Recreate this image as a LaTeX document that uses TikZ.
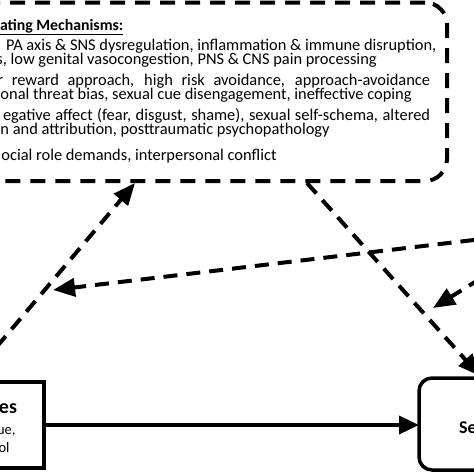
\documentclass[tikz,border=0pt]{standalone}
\usepackage{fontspec}
\setmainfont{Carlito}
\usetikzlibrary{arrows.meta}
\tikzset{
  txt/.style={inner sep=0pt, outer sep=0pt, anchor=base west, font=\fontsize{16.4}{18}\selectfont},
  lbl/.style={inner sep=0pt, outer sep=0pt, anchor=base east},
  boxshape/.style={draw, line width=3.5pt, inner sep=0pt, outer sep=0pt},
  medbox/.style={draw, line width=4pt, dash pattern=on 15pt off 10pt, rounded corners=22pt, inner sep=0pt, outer sep=0pt},
  dasharrow/.style={line width=4pt, dash pattern=on 14pt off 9pt, -{Triangle[length=22pt,width=18pt]}},
  solidarrow/.style={line width=3.5pt, -{Triangle[length=20pt,width=18pt]}},
}
\begin{document}
\begin{tikzpicture}[x=1pt,y=-1pt]
\useasboundingbox (0,0) rectangle (474,474);
\clip (0,0) rectangle (474,474);
% mediator box
\node[medbox, minimum width=527pt, minimum height=178.5pt, anchor=north west] (M) at (-80,2.5) {};
\node[txt, font=\fontsize{15.8}{18}\selectfont] (h) at (0,30) {\textbf{\underline{ating Mechanisms:}}};
\node[txt] (t1) at (6,50.5) {PA axis \& SNS dysregulation, inflammation \& immune disruption,};
\node[txt] (t2) at (-3.5,64.5) {s, low genital vasocongestion, PNS \& CNS pain processing};
\node[txt] (t3) at (-2.5,85.5) {\makebox[432.5pt][s]{r reward approach, high risk avoidance, approach-avoidance}};
\node[txt] (t4) at (0.5,99.5) {onal threat bias, sexual cue disengagement, ineffective coping};
\node[txt] (t5) at (3,120.5) {\makebox[427pt][s]{egative affect (fear, disgust, shame), sexual self-schema, altered}};
\node[txt] (t6) at (0.5,134.5) {n and attribution, posttraumatic psychopathology};
\node[txt] (t7) at (1.5,160.5) {ocial role demands, interpersonal conflict};
% left box
\node[boxshape, minimum width=194pt, minimum height=86pt, anchor=north east] (L) at (44,382) {};
\node[lbl, font=\fontsize{20}{24}\selectfont\bfseries] (l1) at (17,413) {es};
\node[lbl, font=\fontsize{14.5}{17}\selectfont] (l2) at (15.5,434) {ue,};
\node[lbl, font=\fontsize{14.5}{17}\selectfont] (l3) at (9.5,452) {ol};
% right box
\node[boxshape, rounded corners=13pt, minimum width=200pt, minimum height=92pt, anchor=north west] (S) at (419,378) {};
\node[inner sep=0pt, anchor=base west, font=\fontsize{18}{21}\selectfont\bfseries] (s1) at (459,433) {Se};
% connector end points
\coordinate (a1s) at (-33,382);
\coordinate (a1e) at (135,183);
\coordinate (a2s) at (307,183);
\coordinate (a2e) at (480,376);
\coordinate (a3s) at (520,234.5);
\coordinate (a3e) at (53,290);
\coordinate (a4s) at (520,254);
\coordinate (a4e) at (433,308);
% connectors
\draw[dasharrow] (a1s) -- (a1e);
\draw[dasharrow] (a2s) -- (a2e);
\draw[dasharrow] (a3s) -- (a3e);
\draw[dasharrow] (a4s) -- (a4e);
\draw[solidarrow] (L.east) -- (L.east -| S.west);
\end{tikzpicture}
\end{document}
